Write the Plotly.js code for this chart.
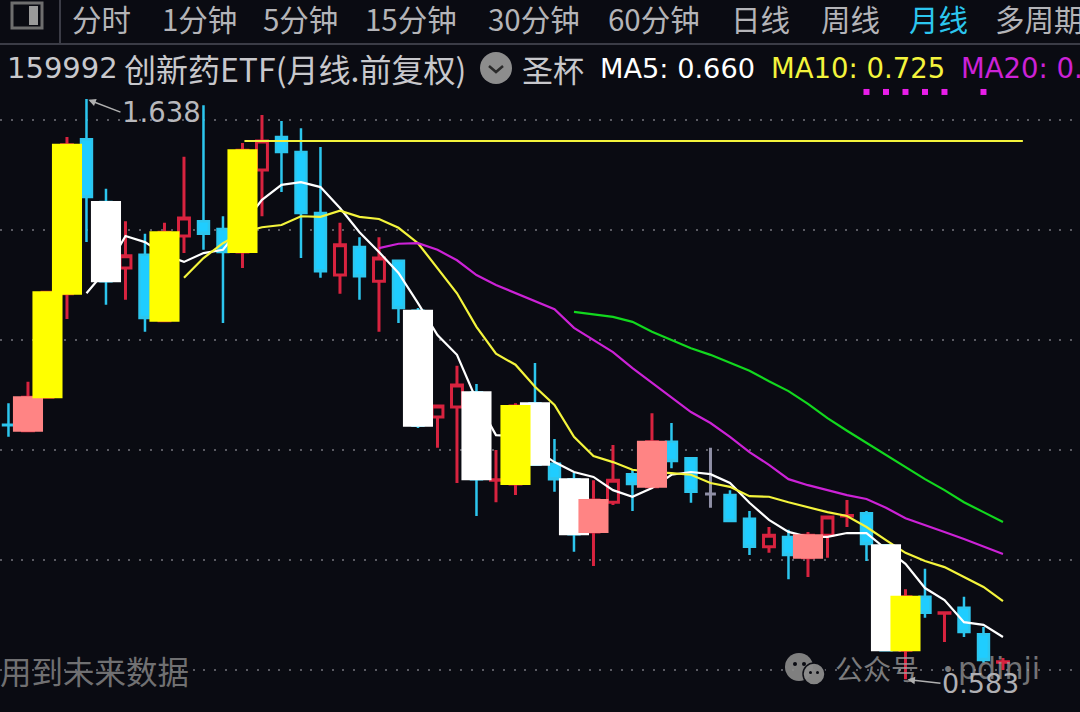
<!DOCTYPE html>
<html>
<head>
<meta charset="utf-8">
<script src="https://cdn.plot.ly/plotly-3.0.1.min.js"></script>
<style>html,body{margin:0;padding:0;background:#0a0b12;overflow:hidden}#chart{width:1080px;height:712px}</style>
</head>
<body>
<div id="chart"></div>
<script>
// Monthly OHLC of 159992 (index 0..51)
const opens  = [1.046,1.035,1.096,1.284,1.565,1.451,1.331,1.355,1.235,1.389,1.416,1.402,1.360,1.509,1.569,1.542,1.431,1.318,1.369,1.307,1.344,1.253,1.060,1.078,1.105,0.945,0.938,1.085,0.975,0.947,0.851,0.905,0.956,0.933,1.015,0.985,0.920,0.918,0.875,0.824,0.842,0.804,0.845,0.880,0.885,0.827,0.636,0.733,0.703,0.713,0.665,0.614];
const highs  = [1.085,1.124,1.287,1.569,1.638,1.475,1.416,1.393,1.413,1.533,1.627,1.425,1.558,1.609,1.598,1.585,1.551,1.413,1.387,1.387,1.346,1.258,1.081,1.153,1.120,1.000,1.085,1.158,1.020,0.958,0.945,1.009,0.964,1.067,1.049,0.987,1.004,0.927,0.889,0.860,0.855,0.851,0.879,0.909,0.889,0.827,0.747,0.784,0.707,0.733,0.678,0.622];
const lows   = [1.024,1.035,1.094,1.238,1.378,1.264,1.273,1.215,1.234,1.358,1.364,1.231,1.331,1.425,1.469,1.349,1.313,1.284,1.273,1.215,1.231,1.040,1.004,0.940,0.880,0.905,0.918,0.973,0.924,0.815,0.789,0.900,0.889,0.933,0.967,0.904,0.895,0.871,0.809,0.813,0.765,0.769,0.804,0.860,0.798,0.636,0.583,0.695,0.651,0.660,0.613,0.600];
const closes = [1.045,1.096,1.287,1.555,1.460,1.307,1.353,1.240,1.396,1.422,1.393,1.360,1.545,1.562,1.542,1.431,1.325,1.373,1.316,1.349,1.258,1.044,1.080,1.118,0.947,0.946,1.080,0.973,0.947,0.847,0.909,0.945,0.938,1.015,0.980,0.924,0.920,0.871,0.824,0.845,0.809,0.845,0.878,0.881,0.829,0.636,0.733,0.704,0.704,0.669,0.618,0.615];

// Candles the indicator highlights
const whiteCandles  = [5,21,24,27,29,45];
const salmonCandles = [1,30,33,41];
const yellowCandles = [2,3,8,12,26,46];
const greyCandles   = [36];

// Moving averages
const ma5Start = 4;
const ma5 = [1.285,1.327,1.389,1.378,1.355,1.342,1.358,1.364,1.409,1.455,1.482,1.487,1.478,1.440,1.396,1.360,1.322,1.267,1.209,1.173,1.091,1.027,1.025,1.002,0.978,0.960,0.951,0.927,0.915,0.931,0.955,0.960,0.956,0.940,0.904,0.873,0.851,0.842,0.842,0.849,0.849,0.820,0.793,0.749,0.727,0.687,0.682,0.660];
const ma10Start = 9;
const ma10 = [1.313,1.349,1.376,1.396,1.405,1.409,1.425,1.424,1.435,1.424,1.420,1.404,1.376,1.331,1.285,1.224,1.175,1.155,1.115,1.082,1.024,0.989,0.978,0.964,0.960,0.958,0.955,0.940,0.933,0.916,0.915,0.905,0.896,0.887,0.880,0.860,0.836,0.813,0.798,0.787,0.769,0.751,0.725];
const ma20Start = 19;
const ma20 = [1.367,1.375,1.376,1.364,1.345,1.318,1.300,1.285,1.271,1.256,1.222,1.200,1.178,1.149,1.122,1.095,1.069,1.049,1.024,0.996,0.973,0.947,0.936,0.927,0.918,0.911,0.895,0.876,0.864,0.851,0.838,0.825,0.811];
const ma30Start = 29;
const ma30 = [1.251,1.247,1.242,1.233,1.215,1.200,1.185,1.173,1.158,1.144,1.125,1.107,1.084,1.058,1.035,1.013,0.991,0.969,0.947,0.927,0.905,0.887,0.869];

const levelLineX = [12.1,52.02];
const levelLineY = [1.562,1.562];
const signalX = [44,45,46,47,48,50];
const signalY = [1.651,1.651,1.651,1.651,1.651,1.651];
const highMark = 1.638, lowMark = 0.583;
const priceTicks = [0.6,0.8,1.0,1.2,1.4,1.6];

const periodTabs = [["分时",72],["1分钟",162],["5分钟",263],["15分钟",365],["30分钟",488],["60分钟",608],["日线",731],["周线",821],["多周期",995]];

// ---------------------------------------------------------
const allIdx = opens.map((_,i)=>i);
const XR = [-0.435,54.95], YR = [0.5236,1.8182];
const BG = '#0a0b12';
const CYAN='#1fcdff', RED='#d8233f';
const pick = (a,idx)=>idx.map(i=>a[i]);
const mainIdx = allIdx.filter(i=>!greyCandles.includes(i));
const range = (s,n)=>Array.from({length:n},(_,k)=>s+k);

function candle(idx,name,inc,dec){
  return {type:'candlestick',name:name,x:idx,open:pick(opens,idx),high:pick(highs,idx),low:pick(lows,idx),close:pick(closes,idx),
    whiskerwidth:0,increasing:inc,decreasing:dec,xaxis:'x',yaxis:'y',hoverinfo:'skip',showlegend:false};
}
function wide(idx,color,name){
  return {type:'bar',name:name,x:idx,base:idx.map(i=>Math.min(opens[i],closes[i])),y:idx.map(i=>Math.abs(closes[i]-opens[i])),
    width:idx.map(()=>1.44),marker:{color:color,line:{width:2,color:color}},xaxis:'x2',yaxis:'y2',hoverinfo:'skip',showlegend:false};
}
function maLine(vals,start,color,name){
  return {type:'scatter',mode:'lines',name:name,x:range(start,vals.length),y:vals,line:{color:color,width:2.2},hoverinfo:'skip',showlegend:false};
}
const traces = [
  candle(mainIdx,'K',{line:{color:RED,width:3},fillcolor:BG},{line:{color:'#2cc6ee',width:2.5},fillcolor:CYAN}),
  candle(greyCandles,'doji',{line:{color:'#8f8fa6',width:3},fillcolor:'#8f8fa6'},{line:{color:'#8f8fa6',width:3},fillcolor:'#8f8fa6'}),
  maLine(ma5,ma5Start,'#ffffff','MA5'),
  maLine(ma10,ma10Start,'#f4f43c','MA10'),
  maLine(ma20,ma20Start,'#cc22d6','MA20'),
  maLine(ma30,ma30Start,'#12d81e','MA30'),
  {type:'scatter',mode:'lines',name:'level',x:levelLineX,y:levelLineY,line:{color:'#f4f43c',width:2},hoverinfo:'skip',showlegend:false},
  {type:'scatter',mode:'markers',name:'signal',x:signalX,y:signalY,marker:{symbol:'square',size:6,color:'#e81ee8'},hoverinfo:'skip',showlegend:false},
  wide(whiteCandles,'#ffffff','white'),
  wide(salmonCandles,'#ff8484','salmon'),
  wide(yellowCandles,'#ffff00','yellow')
];

const CJK='"Noto Sans CJK SC","Noto Sans",sans-serif', LAT='"DejaVu Sans",sans-serif';
const W=1080,H=712;
function label(text,px,py,size,color,family,opacity){
  return {text:text,xref:'paper',yref:'paper',x:px/W,y:1-py/H,xanchor:'left',yanchor:'middle',showarrow:false,
    font:{family:family||CJK,size:size,color:color},opacity:opacity===undefined?1:opacity,borderpad:0,borderwidth:0};
}
const annotations = periodTabs.map(t=>label(t[0],t[1],18,29.5,'#b4b4b8'));
annotations.push(label("月线",909,18,29.5,'#2cc6ee'));
annotations.push(label("159992",7,68,29,'#c8c8cc',LAT));
annotations.push(label("创新药ETF(月线.前复权)",124,68,32,'#c8c8cc'));
annotations.push(label("圣杯",522,68,31,'#c8c8cc'));
annotations.push(label("MA5: 0.660",600,68,27.2,'#ffffff',LAT));
annotations.push(label("MA10: 0.725",771,68,27.5,'#f4f43c',LAT));
annotations.push(label("MA20: 0.",961,68,27.5,'#cc22d6',LAT));
annotations.push(label("用到未来数据",0,670,31.5,'#8a8a8a',CJK,0.8));
annotations.push(label("公众号",835,668,28,'#a0a0a0',CJK,0.75));
annotations.push(label("·",934,668,28,'#a0a0a0',CJK,0.75));
annotations.push(label("pdinji",958,668,30,'#a0a0a0',LAT,0.7));
annotations.push({text:String(highMark.toFixed(3)),x:4,y:highMark,xref:'x',yref:'y',ax:34,ay:13,axref:'pixel',ayref:'pixel',xanchor:'left',yanchor:'middle',
  showarrow:true,arrowhead:2,arrowsize:1,arrowwidth:1.5,arrowcolor:'#b0b0b0',standoff:2,font:{family:LAT,size:27.5,color:'#b8b8bc'}});
annotations.push({text:String(lowMark.toFixed(3)),x:46,y:lowMark,xref:'x',yref:'y',ax:35,ay:4,axref:'pixel',ayref:'pixel',xanchor:'left',yanchor:'middle',
  showarrow:true,arrowhead:2,arrowsize:1,arrowwidth:1.5,arrowcolor:'#b0b0b0',standoff:2,font:{family:LAT,size:27,color:'#b0b0b4'}});

function pxRect(type,x0,y0,x1,y1,extra){
  return Object.assign({type:type,xref:'paper',yref:'paper',x0:x0/W,x1:x1/W,y0:1-y0/H,y1:1-y1/H,layer:'above'},extra);
}
const GL='#3b3c46';
const shapes = [
  pxRect('line',0,44,1080,44,{line:{color:GL,width:2}}),
  pxRect('line',60,0,60,44,{line:{color:GL,width:2}}),
  pxRect('rect',12,3,42,28,{line:{color:'#6e6e6e',width:3},fillcolor:BG}),
  pxRect('rect',29,6,38,25,{line:{width:0},fillcolor:'#9a9a9a'}),
  pxRect('circle',480,52,512,84,{line:{width:0},fillcolor:'#8d8d8d'}),
  {type:'path',xref:'paper',yref:'paper',layer:'above',path:`M ${489/W} ${1-66/H} L ${496/W} ${1-72/H} L ${503/W} ${1-66/H}`,line:{color:'#2a2a2a',width:2.5}},
  // WeChat mark of the watermark
  pxRect('circle',785,653,813,681,{line:{width:0},fillcolor:'#8c8c8c',opacity:0.9}),
  pxRect('circle',803,663,825,685,{line:{color:BG,width:1.5},fillcolor:'#8c8c8c',opacity:0.95}),
  pxRect('circle',793,662,797,666,{line:{width:0},fillcolor:BG}),
  pxRect('circle',802,662,806,666,{line:{width:0},fillcolor:BG}),
  pxRect('circle',809,671,812,674,{line:{width:0},fillcolor:BG}),
  pxRect('circle',816,671,819,674,{line:{width:0},fillcolor:BG})
];

const layout = {
  width:W,height:H,margin:{l:0,r:0,t:0,b:0,pad:0},
  paper_bgcolor:BG,plot_bgcolor:BG,showlegend:false,hovermode:false,dragmode:false,
  barmode:'overlay',boxgap:0.2,
  xaxis:{type:'linear',range:XR,visible:false,fixedrange:true,rangeslider:{visible:false},showgrid:false,zeroline:false},
  yaxis:{type:'linear',range:YR,fixedrange:true,tickmode:'array',tickvals:priceTicks,showticklabels:false,ticks:'',showline:false,zeroline:false,
         showgrid:true,gridcolor:'#5a5a62',gridwidth:2,griddash:'2px,8.7px'},
  xaxis2:{type:'linear',range:XR,overlaying:'x',visible:false,fixedrange:true,anchor:'y2'},
  yaxis2:{type:'linear',range:YR,overlaying:'y',visible:false,fixedrange:true,anchor:'x2'},
  annotations:annotations,shapes:shapes
};
Plotly.newPlot('chart',traces,layout,{displayModeBar:false,staticPlot:true,responsive:false});
</script>
</body>
</html>
